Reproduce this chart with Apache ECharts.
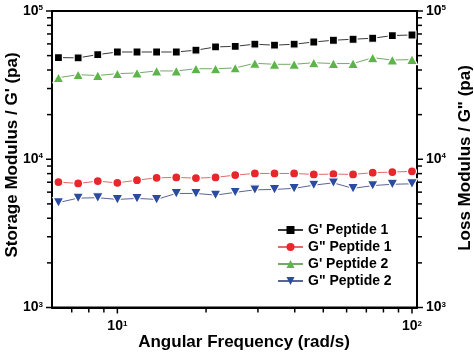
<!DOCTYPE html>
<html><head><meta charset="utf-8">
<script src="https://cdn.jsdelivr.net/npm/echarts@6/dist/echarts.min.js"></script>
<style>html,body{margin:0;padding:0;background:#fff}#c{width:474px;height:352px}</style>
</head><body><div id="c"></div>
<script>
// Angular frequency (rad/s)
const frequency = [6.31, 7.36, 8.58, 10.0, 11.66, 13.59, 15.85, 18.48, 21.54, 25.12, 29.29, 34.15, 39.81, 46.42, 54.12, 63.10, 73.56, 85.77, 100.0];
// Moduli (pa)
const gPrimePeptide1  = [48500, 48300, 50800, 52900, 52900, 52900, 52900, 54400, 57200, 57800, 59700, 58800, 59700, 61800, 63500, 64500, 65500, 68300, 68900];
const gDoublePeptide1 = [7010, 6870, 7120, 6930, 7230, 7490, 7540, 7460, 7540, 7820, 8020, 8020, 8020, 7900, 7940, 7900, 8120, 8190, 8290];
const gPrimePeptide2  = [35500, 37200, 36700, 37800, 38200, 39400, 39400, 40800, 40800, 41300, 44400, 43700, 43700, 44800, 44200, 44200, 48400, 46700, 47000];
const gDoublePeptide2 = [5100, 5470, 5500, 5360, 5440, 5360, 5880, 5880, 5730, 5980, 6220, 6260, 6360, 6690, 6930, 6360, 6640, 6780, 6830];
const seriesNames = ["G' Peptide 1", 'G" Peptide 1', "G' Peptide 2", 'G" Peptide 2'];
// Axis ticks
const xMin = 6, xMax = 104, yMin = 1000, yMax = 100000;
const xLabelTicks = [10, 100];
const xAllTicks = [7, 8, 9, 10, 20, 30, 40, 50, 60, 70, 80, 90, 100];
const yLabelTicks = [1000, 10000, 100000];
const yAllTicks = [1000, 2000, 3000, 4000, 5000, 6000, 7000, 8000, 9000, 10000, 20000, 30000, 40000, 50000, 60000, 70000, 80000, 90000, 100000];
const xTitle = 'Angular Frequency (rad/s)';
const yLeftTitle = "Storage Modulus / G' (pa)";
const yRightTitle = 'Loss Modulus / G" (pa)';

const FONT = '"Liberation Sans", Arial, sans-serif';
const chart = echarts.init(document.getElementById('c'), null, {renderer: 'canvas'});

function powLabel(v) {
  const e = Math.round(Math.log10(v));
  return '{b|10}{s|' + e + '}';
}
const richLabel = {
  b: {fontSize: 14, fontWeight: 'bold', fontFamily: FONT, color: '#000', lineHeight: 14},
  s: {fontSize: 8, fontWeight: 'bold', fontFamily: FONT, color: '#000', lineHeight: 8, verticalAlign: 'top'}
};
function isMajor(v) { const l = Math.log10(v); return Math.abs(l - Math.round(l)) < 1e-6; }

function yAxisDef(pos) {
  return {
    type: 'log', logBase: 10, min: yMin, max: yMax, position: pos,
    axisLine: {show: true, lineStyle: {color: '#000', width: 2}},
    axisTick: {show: false},
    axisLabel: {show: true, margin: 9, formatter: powLabel, rich: richLabel, customValues: yLabelTicks},
    splitLine: {show: false}, minorTick: {show: false}, minorSplitLine: {show: false}
  };
}

function mkSeries(name, arr, yIdx, symbol, size, rotate, color, lineColor) {
  return {
    name: name, type: 'line', xAxisIndex: 0, yAxisIndex: yIdx,
    data: frequency.map((f, i) => [f, arr[i]]),
    symbol: symbol, symbolSize: size, symbolRotate: rotate,
    itemStyle: {color: color, borderColor: '#fff', borderWidth: 1.2},
    lineStyle: {color: lineColor, width: 1},
    emphasis: {disabled: true}, animation: false, z: 3
  };
}

// tick marks drawn through the axes' own scales
function tickSeries(data, dir) {
  return {
    type: 'custom', xAxisIndex: 0, yAxisIndex: 0, data: data, clip: false, silent: true, z: 5,
    renderItem: function (params, api) {
      const xv = api.value(0), yv = api.value(1);
      const p = api.coord([xv, yv]);
      const major = isMajor(dir === 'down' ? xv : yv);
      const len = major ? 5 : 4;
      let x2 = p[0], y2 = p[1];
      if (dir === 'down') y2 += len + 1; else if (dir === 'left') x2 -= len + 1; else x2 += len + 1;
      return {type: 'line', shape: {x1: p[0], y1: p[1], x2: x2, y2: y2}, style: {stroke: '#000', lineWidth: 1.5}};
    }
  };
}

const option = {
  backgroundColor: '#fff',
  animation: false,
  grid: {left: 52, top: 11, right: 57, bottom: 44.5, show: true, borderColor: '#000', borderWidth: 2, backgroundColor: 'transparent', outerBoundsMode: 'none', containLabel: false},
  xAxis: [{
    type: 'log', logBase: 10, min: xMin, max: xMax,
    axisLine: {show: true, lineStyle: {color: '#000', width: 2}},
    axisTick: {show: false},
    axisLabel: {show: true, margin: 12, formatter: powLabel, rich: richLabel, customValues: xLabelTicks},
    splitLine: {show: false}, minorTick: {show: false}
  }],
  yAxis: [yAxisDef('left'), yAxisDef('right')],
  legend: {
    data: seriesNames, orient: 'vertical', left: 277, top: 221.5, padding: 0,
    itemWidth: 25, itemHeight: 10, itemGap: 0,
    itemStyle: {borderWidth: 0},
    textStyle: {fontSize: 14, fontWeight: 'bold', fontFamily: FONT, color: '#000', lineHeight: 17},
    selectedMode: false
  },
  series: [
    mkSeries(seriesNames[0], gPrimePeptide1, 0, 'rect', 8, 0, '#000000', '#3a3a3a'),
    mkSeries(seriesNames[1], gDoublePeptide1, 1, 'circle', 9, 0, '#e8262b', '#e06a6c'),
    mkSeries(seriesNames[2], gPrimePeptide2, 0, 'triangle', [11, 10], 0, '#5db549', '#76a86a'),
    mkSeries(seriesNames[3], gDoublePeptide2, 1, 'triangle', [11, 10], 180, '#2a4ba0', '#5a6496'),
    tickSeries(xAllTicks.map(v => [v, yMin]), 'down'),
    tickSeries(yAllTicks.map(v => [xMin, v]), 'left'),
    tickSeries(yAllTicks.map(v => [xMax, v]), 'right')
  ],
  graphic: [
    {type: 'text', x: 244, y: 342.5, style: {text: xTitle, fontSize: 17, fontWeight: 'bold', fontFamily: FONT, fill: '#000', textAlign: 'center', textVerticalAlign: 'middle'}},
    {type: 'text', x: 12, y: 155, rotation: Math.PI / 2, style: {text: yLeftTitle, fontSize: 17, fontWeight: 'bold', fontFamily: FONT, fill: '#000', textAlign: 'center', textVerticalAlign: 'middle'}},
    {type: 'text', x: 465, y: 158, rotation: Math.PI / 2, style: {text: yRightTitle, fontSize: 17, fontWeight: 'bold', fontFamily: FONT, fill: '#000', textAlign: 'center', textVerticalAlign: 'middle'}}
  ]
};
chart.setOption(option);
</script>
</body></html>
